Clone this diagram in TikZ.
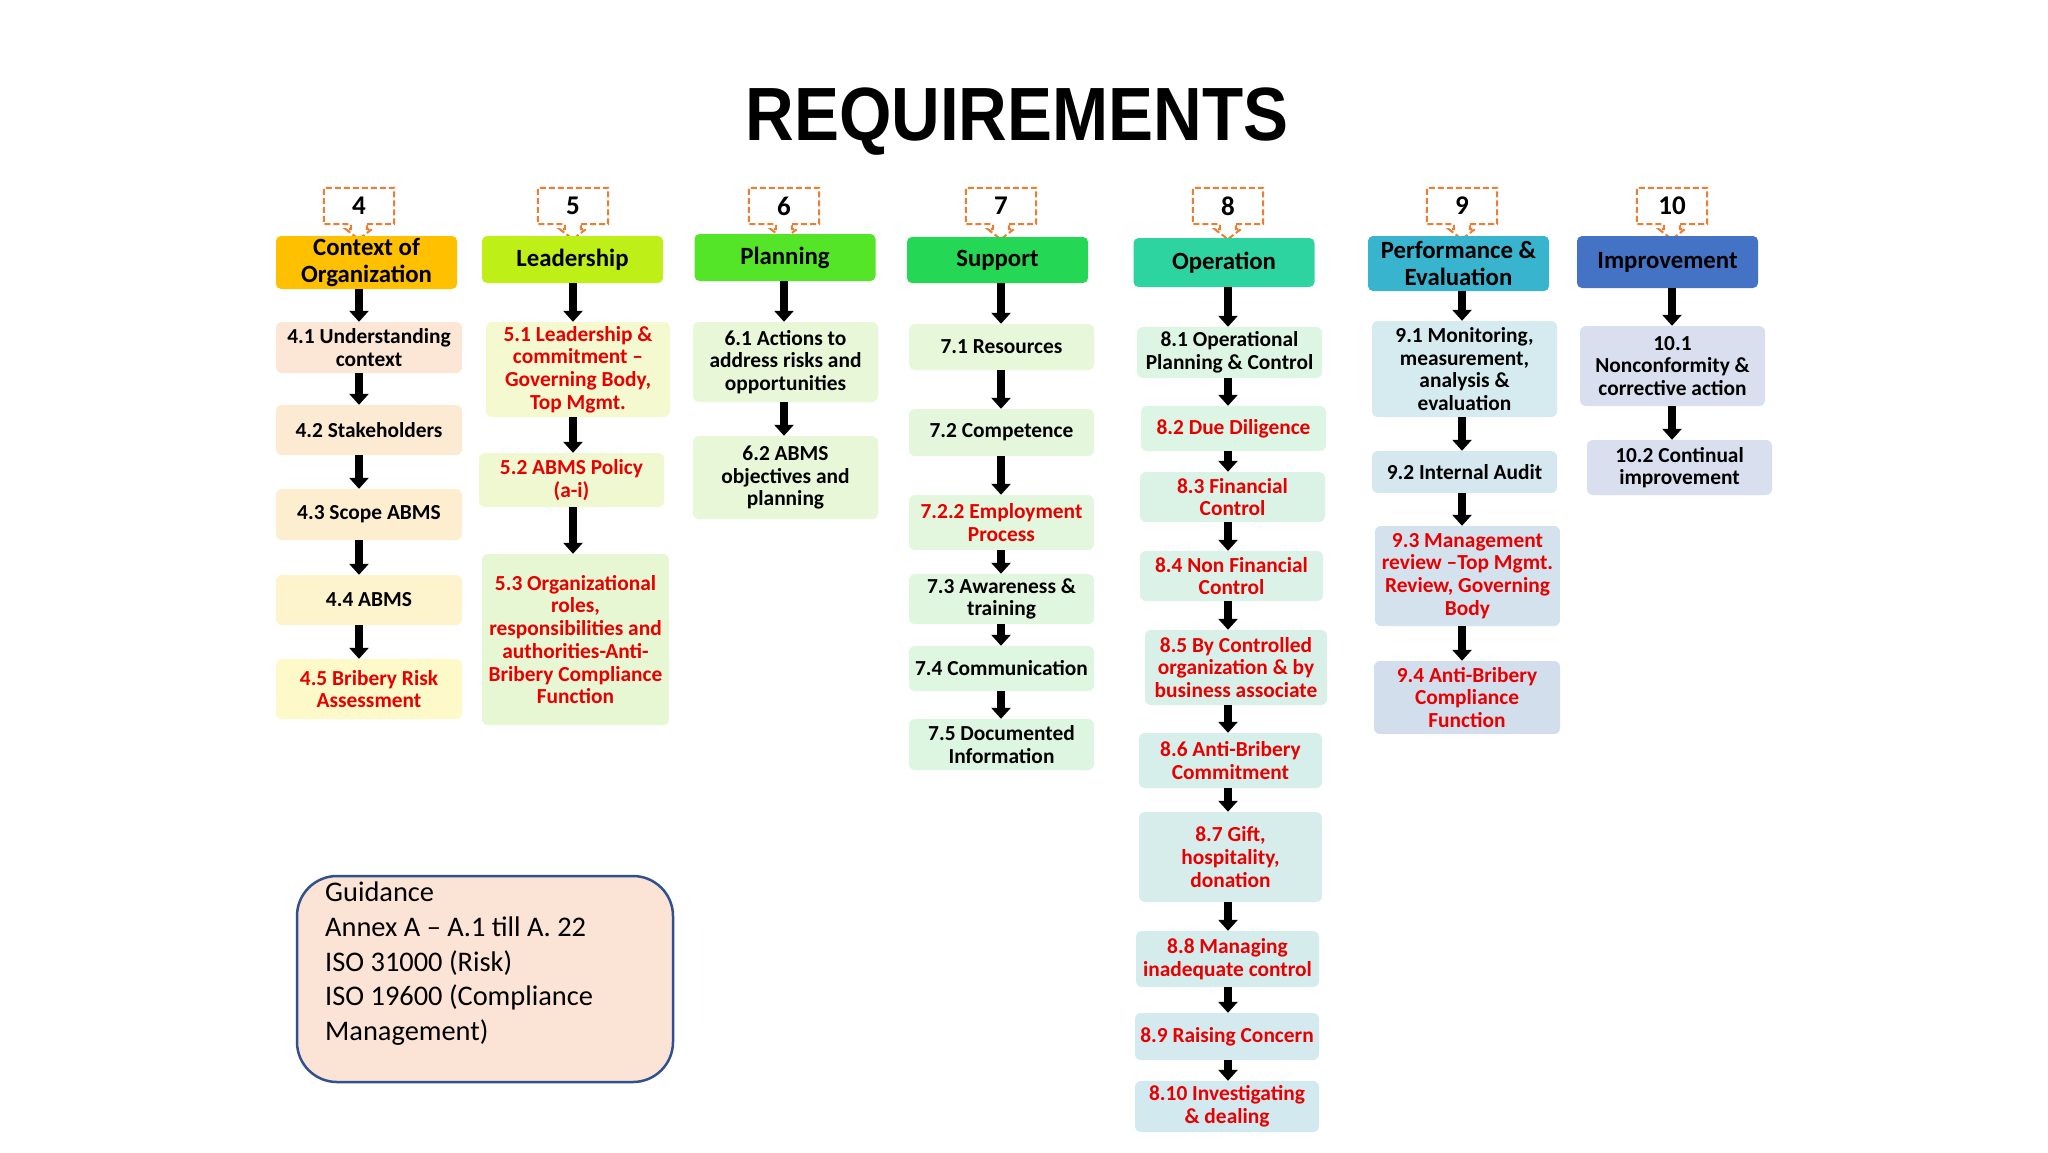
\documentclass[tikz,border=0pt]{standalone}
\usepackage{graphicx}
\usepackage{fontspec}
\setmainfont{Carlito}
\newfontfamily\titlefamily{Liberation Sans}
\usetikzlibrary{arrows.meta}

\definecolor{numorange}{RGB}{237,125,49}
\definecolor{itemred}{RGB}{232,0,0}
\definecolor{h4c}{HTML}{FFC000}
\definecolor{h5c}{RGB}{190,240,24}
\definecolor{h6c}{RGB}{84,228,40}
\definecolor{h7c}{RGB}{36,216,86}
\definecolor{h8c}{RGB}{46,212,160}
\definecolor{h9c}{RGB}{56,180,206}
\definecolor{h10c}{HTML}{4472C4}
\definecolor{s4top}{HTML}{FCE6D5}
\definecolor{s4bot}{HTML}{FEF9C8}
\definecolor{s5top}{HTML}{F5F9CF}
\definecolor{s5bot}{HTML}{E7F6D3}
\definecolor{s6c}{HTML}{E8F7D7}
\definecolor{s7top}{HTML}{E6F7DA}
\definecolor{s7bot}{HTML}{DDF6E2}
\definecolor{s8top}{HTML}{DDF6E4}
\definecolor{s8bot}{HTML}{D3E9F0}
\definecolor{s9top}{HTML}{D6EBF0}
\definecolor{s9bot}{HTML}{D3DEEC}
\definecolor{s10c}{HTML}{D9DFEE}
\definecolor{guideblue}{RGB}{47,82,143}
\definecolor{guidefill}{HTML}{FBE3D6}

\newcommand{\titletext}{\titlefamily\bfseries\fontsize{67.4}{80}\selectfont}
\newcommand{\headtext}{\fontsize{24.8}{26.7}\selectfont\bfseries}
\newcommand{\boxtext}{\fontsize{21.4}{22.7}\selectfont\bfseries}
\newcommand{\numtext}{\fontsize{27}{30}\selectfont\bfseries}
\newcommand{\guidetext}{\fontsize{28.4}{34.6}\selectfont}

\begin{document}
\begin{tikzpicture}[x=1pt,y=-1pt,
  head/.style={rounded corners=5pt,font=\headtext,align=center,minimum width=181,inner sep=0pt},
  sub/.style 2 args={rounded corners=6pt,font=\boxtext,align=center,inner sep=0pt,minimum width=#1,minimum height=#2},
  hot/.style={text=itemred},
  num/.style={font=\numtext,minimum width=70,minimum height=36,inner sep=0pt},
  numline/.style={draw=numorange,line width=2pt,dash pattern=on 6pt off 3pt},
  arr/.style={line width=8pt,-{Triangle[width=19pt,length=11pt]}}]
\fill[white] (0,0) rectangle (2048,1152);
\useasboundingbox (0,0) rectangle (2048,1152);

\node[font=\titletext,anchor=base] (title) at (1017,140) {\scalebox{1}[1.12]{REQUIREMENTS}};

% clause numbers
\foreach \n/\x in {4/359,5/573,6/784,7/1001,8/1228,9/1462,10/1672}{
  \node[num] (n\n) at (\x,206) {\n};
  \draw[numline] ([xshift=8pt]n\n.south) -| (n\n.north east) -| (n\n.south west)
    -- ++(27,0) -- ++(0,5) -- ++(-5,0) -- ++(13,10) -- ++(13,-10) -- ++(-5,0) -- cycle;
}

% 4 context
\node[head,fill=h4c,minimum height=53] (h4) at (366.5,262.5) {Context of\\Organization};
\node[sub={186}{51},fill=s4top] (s41) at (369,347.5) {4.1 Understanding\\context};
\node[sub={186}{50},fill=s4top!80!s4bot] (s42) at (369,430) {4.2 Stakeholders};
\node[sub={186}{51},fill=s4top!60!s4bot] (s43) at (369,514.5) {4.3 Scope ABMS};
\node[sub={186}{50},fill=s4top!30!s4bot] (s44) at (369,600) {4.4 ABMS};
\node[sub={186}{60},hot,fill=s4bot] (s45) at (369,689) {4.5 Bribery Risk\\Assessment};

% 5 leadership
\node[head,fill=h5c,minimum height=47] (h5) at (572.5,259.5) {Leadership};
\node[sub={184}{95},hot,fill=s5top] (s51) at (578,369.5) {5.1 Leadership \&\\commitment –\\Governing Body,\\Top Mgmt.};
\node[sub={185}{54},hot,fill=s5top!55!s5bot] (s52) at (571.5,480) {5.2 ABMS Policy\\(a-i)};
\node[sub={187}{171},hot,fill=s5bot] (s53) at (575.5,639.5) {5.3 Organizational\\roles,\\responsibilities and\\authorities-Anti-\\Bribery Compliance\\Function};

% 6 planning
\node[head,fill=h6c,minimum height=47] (h6) at (785,257.5) {Planning};
\node[sub={185}{80},fill=s6c] (s61) at (785.5,362) {6.1 Actions to\\address risks and\\opportunities};
\node[sub={185}{83},fill=s6c] (s62) at (785.5,477.5) {6.2 ABMS\\objectives and\\planning};

% 7 support
\node[head,fill=h7c,minimum height=46] (h7) at (997.5,260) {Support};
\node[sub={185}{46},fill=s7top] (s71) at (1001.5,347) {7.1 Resources};
\node[sub={185}{47},fill=s7top!80!s7bot] (s72) at (1001.5,432.5) {7.2 Competence};
\node[sub={185}{55},hot,fill=s7top!60!s7bot] (s722) at (1001.5,522.5) {7.2.2 Employment\\Process};
\node[sub={185}{50},fill=s7top!40!s7bot] (s73) at (1001.5,599) {7.3 Awareness \&\\training};
\node[sub={185}{45},fill=s7top!20!s7bot] (s74) at (1001.5,668.5) {7.4 Communication};
\node[sub={185}{51},fill=s7bot] (s75) at (1001.5,744.5) {7.5 Documented\\Information};

% 8 operation
\node[head,fill=h8c,minimum height=49] (h8) at (1224,262.5) {Operation};
\node[sub={185}{51},fill=s8top] (s81) at (1229.5,352.5) {8.1 Operational\\Planning \& Control};
\node[sub={185}{45},hot,fill=s8top!89!s8bot] (s82) at (1233.5,428.5) {8.2 Due Diligence};
\node[sub={185}{50},hot,fill=s8top!78!s8bot] (s83) at (1232.5,497) {8.3 Financial\\Control};
\node[sub={183}{50},hot,fill=s8top!67!s8bot] (s84) at (1231.5,576) {8.4 Non Financial\\Control};
\node[sub={182}{75},hot,fill=s8top!56!s8bot] (s85) at (1236,667.5) {8.5 By Controlled\\organization \& by\\business associate};
\node[sub={183}{55},hot,fill=s8top!45!s8bot] (s86) at (1230.5,760.5) {8.6 Anti-Bribery\\Commitment};
\node[sub={183}{90},hot,fill=s8top!33!s8bot] (s87) at (1230.5,857) {8.7 Gift,\\hospitality,\\donation};
\node[sub={183}{56},hot,fill=s8top!22!s8bot] (s88) at (1227.5,959) {8.8 Managing\\inadequate control};
\node[sub={184}{47},hot,fill=s8top!11!s8bot] (s89) at (1227,1036.5) {8.9 Raising Concern};
\node[sub={184}{51},hot,fill=s8bot] (s810) at (1227,1106.5) {8.10 Investigating\\\& dealing};

% 9 performance
\node[head,fill=h9c,minimum height=55] (h9) at (1458.5,263.5) {Performance \&\\Evaluation};
\node[sub={185}{96},fill=s9top] (s91) at (1464.5,369) {9.1 Monitoring,\\measurement,\\analysis \&\\evaluation};
\node[sub={185}{42},fill=s9top!67!s9bot] (s92) at (1464.5,472) {9.2 Internal Audit};
\node[sub={185}{100},hot,fill=s9top!33!s9bot] (s93) at (1467.5,576) {9.3 Management\\review –Top Mgmt.\\Review, Governing\\Body};
\node[sub={186}{73},hot,fill=s9bot] (s94) at (1467,697.5) {9.4 Anti-Bribery\\Compliance\\Function};

% 10 improvement
\node[head,fill=h10c,minimum height=52] (h10) at (1667.5,262) {Improvement};
\node[sub={185}{80},fill=s10c] (s101) at (1672.5,366) {10.1\\Nonconformity \&\\corrective action};
\node[sub={185}{55},fill=s10c] (s102) at (1679.5,467.5) {10.2 Continual\\improvement};

% arrows run under each clause number
\foreach \n/\a/\b in {4/h4/s41,4/s41/s42,4/s42/s43,4/s43/s44,4/s44/s45,
  5/h5/s51,5/s51/s52,5/s52/s53,6/h6/s61,6/s61/s62,
  7/h7/s71,7/s71/s72,7/s72/s722,7/s722/s73,7/s73/s74,7/s74/s75,
  8/h8/s81,8/s81/s82,8/s82/s83,8/s83/s84,8/s84/s85,8/s85/s86,8/s86/s87,8/s87/s88,8/s88/s89,8/s89/s810,
  9/h9/s91,9/s91/s92,9/s92/s93,9/s93/s94,10/h10/s101,10/s101/s102}
  \draw[arr] (\a.south -| n\n.south) -- (\b.north -| n\n.south);

% guidance
\node[draw=guideblue,line width=2.5pt,fill=guidefill,rounded corners=40pt,minimum width=376,minimum height=206] (guide) at (485,979) {};
\node[font=\guidetext,align=left,anchor=north west,inner sep=0pt] (guidelines) at (325,882) {Guidance\\Annex A – A.1 till A. 22\\ISO 31000 (Risk)\\ISO 19600 (Compliance\\Management)};
\end{tikzpicture}
\end{document}
